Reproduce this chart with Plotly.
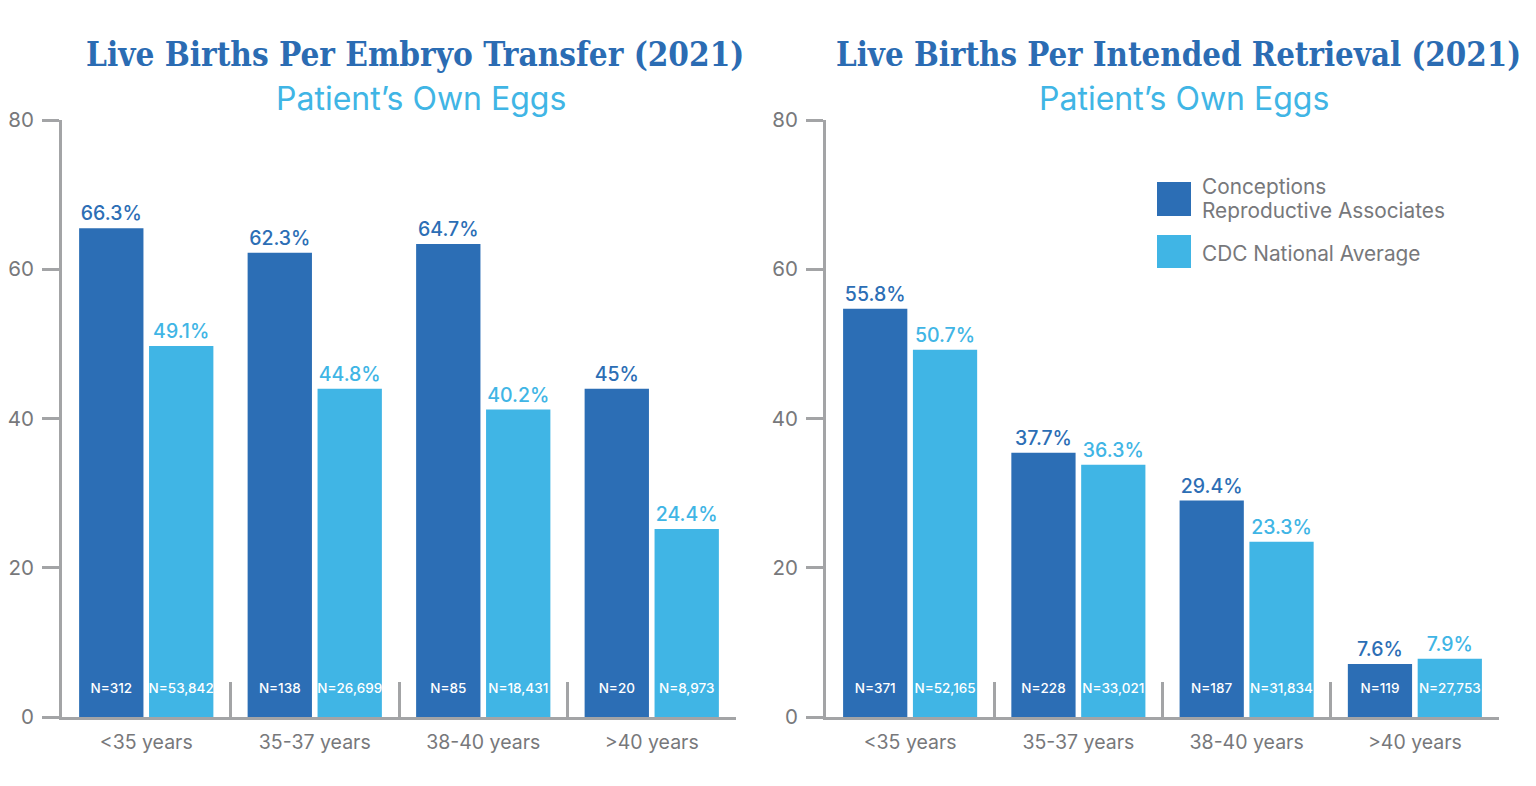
import plotly.graph_objects as go

W, H = 1536, 786
categories = ["<35 years", "35-37 years", "38-40 years", ">40 years"]

left_cra_heights = [65.5, 62.2, 63.4, 44.0]
left_cdc_heights = [49.7, 44.0, 41.2, 25.2]
left_cra_labels = ["66.3%", "62.3%", "64.7%", "45%"]
left_cdc_labels = ["49.1%", "44.8%", "40.2%", "24.4%"]
left_cra_n = ["N=312", "N=138", "N=85", "N=20"]
left_cdc_n = ["N=53,842", "N=26,699", "N=18,431", "N=8,973"]

right_cra_heights = [54.7, 35.4, 29.0, 7.1]
right_cdc_heights = [49.2, 33.8, 23.5, 7.8]
right_cra_labels = ["55.8%", "37.7%", "29.4%", "7.6%"]
right_cdc_labels = ["50.7%", "36.3%", "23.3%", "7.9%"]
right_cra_n = ["N=371", "N=228", "N=187", "N=119"]
right_cdc_n = ["N=52,165", "N=33,021", "N=31,834", "N=27,753"]

DARK = "#2c6eb5"
SKY = "#40b5e5"
GREY = "#77787b"
AXIS = "#a3a4a6"
SANS = "Inter, Lato, sans-serif"
SERIF = "'DejaVu Serif Condensed', 'DejaVu Serif', serif"
N_BAND = 7.8

fig = go.Figure()


def add_group(heights, labels, ns, color, group, xa, ya):
    fig.add_bar(x=categories, y=heights, text=labels, textposition="outside",
                marker=dict(color=color, line=dict(width=0)), offsetgroup=group,
                xaxis=xa, yaxis=ya, cliponaxis=False, showlegend=False,
                textfont=dict(family=SANS, size=19.5, color=color, weight=500))
    fig.add_bar(x=categories, y=[N_BAND] * 4, text=ns, textposition="inside",
                insidetextanchor="middle", constraintext="none", textangle=0,
                marker=dict(color="rgba(0,0,0,0)", line=dict(width=0)), offsetgroup=group,
                xaxis=xa, yaxis=ya, showlegend=False,
                insidetextfont=dict(family=SANS, size=13.5, color="white", weight=500))


add_group(left_cra_heights, left_cra_labels, left_cra_n, DARK, "a", "x", "y")
add_group(left_cdc_heights, left_cdc_labels, left_cdc_n, SKY, "b", "x", "y")
add_group(right_cra_heights, right_cra_labels, right_cra_n, DARK, "c", "x2", "y2")
add_group(right_cdc_heights, right_cdc_labels, right_cdc_n, SKY, "d", "x2", "y2")

xax = dict(type="category", categoryorder="array", categoryarray=categories, automargin=False,
           showline=True, linecolor=AXIS, linewidth=3, showgrid=False, zeroline=False,
           ticks="inside", tickson="boundaries", ticklen=35, tickcolor=AXIS, tickwidth=2.5,
           tickfont=dict(family=SANS, size=19.5, color=GREY), ticklabelstandoff=6)
yax = dict(range=[0, 80], tickvals=[0, 20, 40, 60, 80], automargin=False,
           showline=True, linecolor=AXIS, linewidth=3,
           showgrid=False, zeroline=False, ticks="outside", ticklen=17, tickcolor=AXIS, tickwidth=2.5,
           tickfont=dict(family=SANS, size=20.5, color=GREY), ticklabelstandoff=4)


def px_x(p):
    return p / W


def px_y(p):
    return 1 - p / H


annotations = []


def text(x, y, s, size, color, family, anchor="center"):
    annotations.append(dict(xref="paper", yref="paper", x=px_x(x), y=px_y(y), text=s, showarrow=False,
                            xanchor=anchor, yanchor="middle",
                            font=dict(family=family, size=size, color=color)))


text(415, 54, "<b>Live Births Per Embryo Transfer (2021)</b>", 33, "#2b6cb3", SERIF)
text(421, 99, "Patient’s Own Eggs", 32, SKY, SANS)
text(1178, 54, "<b>Live Births Per Intended Retrieval (2021)</b>", 32.7, "#2b6cb3", SERIF)
text(1184, 99, "Patient’s Own Eggs", 32, SKY, SANS)
text(1200, 186, "Conceptions", 20.8, GREY, SANS, "left")
text(1200, 210, "Reproductive Associates", 20.8, GREY, SANS, "left")
text(1200, 253, "CDC National Average", 20.8, GREY, SANS, "left")

shapes = [
    dict(type="rect", xref="paper", yref="paper", x0=px_x(1157), x1=px_x(1191), y0=px_y(216), y1=px_y(182),
         fillcolor=DARK, line=dict(width=0)),
    dict(type="rect", xref="paper", yref="paper", x0=px_x(1157), x1=px_x(1191), y0=px_y(268), y1=px_y(235),
         fillcolor=SKY, line=dict(width=0)),
]

fig.update_layout(
    width=W, height=H, margin=dict(l=0, r=0, t=0, b=0, pad=0), paper_bgcolor="white", plot_bgcolor="white",
    barmode="group", bargap=0.17, bargroupgap=0.08, uniformtext=dict(mode=False),
    xaxis=dict(domain=[px_x(62), px_x(736)], anchor="y", **xax),
    yaxis=dict(domain=[px_y(717), px_y(120)], anchor="x", **yax),
    xaxis2=dict(domain=[px_x(826), px_x(1499)], anchor="y2", **xax),
    yaxis2=dict(domain=[px_y(717), px_y(120)], anchor="x2", **yax),
    annotations=annotations, shapes=shapes, showlegend=False,
)
fig.write_html("out.html", config=dict(displayModeBar=False),
               post_script="document.body.style.margin='0';document.body.style.overflow='hidden';")
